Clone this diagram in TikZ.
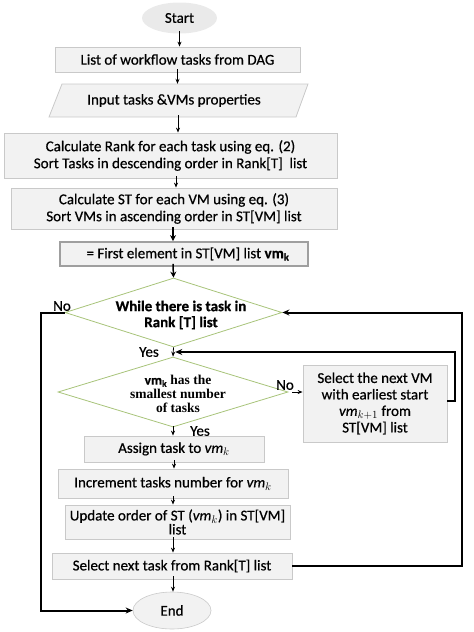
\documentclass[tikz,border=0pt]{standalone}
\usepackage{fontspec}
\setmainfont{Carlito}[FakeBold=0.6]
\newfontfamily\serifbold{Liberation Serif}
\usetikzlibrary{shapes.geometric,arrows.meta,calc}
\definecolor{boxfill}{HTML}{F2F2F2}
\definecolor{boxline}{HTML}{C9C9C9}
\definecolor{diagreen}{HTML}{A8C47A}
\tikzset{
  box/.style={rectangle,draw=boxline,fill=boxfill,line width=0.8pt,inner sep=2pt,align=center,font=\fontsize{15}{17}\selectfont},
  oval/.style={ellipse,draw=boxline,fill=boxfill,line width=0.6pt,inner sep=0pt,font=\fontsize{15}{17}\selectfont},
  dia/.style={diamond,draw=diagreen,fill=white,line width=0.8pt,inner sep=0pt},
  lbl/.style={font=\fontsize{15}{17}\selectfont,inner sep=0pt},
  thinarr/.style={-{Stealth[length=5pt,width=4pt]},line width=0.8pt},
  midarr/.style={-{Stealth[length=6pt,width=6pt]},line width=1.5pt},
  looparr/.style={-{Stealth[length=7pt,width=6pt]},line width=2pt},
}
\begin{document}
\begin{tikzpicture}[x=1pt,y=-1pt]
\useasboundingbox (0,0) rectangle (474,632);
% nodes
\node[oval,draw=none,fill=boxfill!85!gray!70,minimum width=75pt,minimum height=31pt] (start) at (179.5,18) {Start};
\node[box,minimum width=245pt,minimum height=25pt] (list) at (177.5,59.5) {List of workflow tasks from DAG};
\fill[boxfill] (49,117) -- (296,117) -- (308,84) -- (62,84) -- cycle;
\draw[boxline,line width=0.8pt] (49,117) -- (296,117) -- (308,84) -- (62,84) -- cycle;
\node[lbl,minimum width=247pt,minimum height=33pt] (input) at (174,100.5) {Input tasks \&VMs properties};
\node[box,minimum width=333pt,minimum height=45pt] (rank) at (170.5,155.5) {Calculate Rank for each task using eq. (2)\\Sort Tasks in descending order in Rank[T]\ \ list};
\node[box,minimum width=326pt,minimum height=41pt] (st) at (174,208.5) {Calculate ST for each VM using eq. (3)\\Sort VMs in ascending order in ST[VM] list};
\node[box,draw=gray!75,line width=1.8pt,minimum width=248pt,minimum height=24pt] (first) at (184,254) {\hspace*{8pt}= First element in ST[VM] list $\mathbf{vm}_{\mathbf{k}}$};
\node[dia,minimum width=217pt,minimum height=69pt] (d1) at (173.5,312.5) {};
\node[lbl,font=\fontsize{15}{16}\selectfont\bfseries,align=center] (d1t) at (181,315) {While there is task in\\Rank [T] list};
\node[dia,minimum width=230pt,minimum height=70pt] (d2) at (173,392) {};
\node[lbl,font=\fontsize{13.5}{14}\serifbold\bfseries,align=center] (d2t) at (178,394) {$\mathbf{vm}_{\mathbf{k}}$ has the\\smallest number\\of tasks};
\node[box,minimum width=144pt,minimum height=77pt,font=\fontsize{15}{16.5}\selectfont] (sel) at (375,403.5) {Select the next VM\\with earliest start\\$\mathit{vm}_{k+1}$ from\\ST[VM] list};
\node[box,minimum width=180pt,minimum height=26pt] (assign) at (174,449) {Assign task to $\mathit{vm}_k$};
\node[box,minimum width=230pt,minimum height=29pt] (incr) at (173,483.5) {Increment tasks number for $\mathit{vm}_k$};
\node[box,minimum width=225pt,minimum height=34pt,font=\fontsize{15}{14}\selectfont] (upd) at (177.5,522) {Update order of ST ($\mathit{vm}_k$) in ST[VM]\\list};
\node[box,minimum width=240pt,minimum height=26pt] (next) at (172,566) {Select next task from Rank[T] list};
\node[oval,minimum width=78pt,minimum height=37pt] (end) at (172,610.5) {End};
% labels
\node[lbl] (no1) at (62,306) {No};
\node[lbl] (yes1) at (149,352) {Yes};
\node[lbl] (no2) at (285,385) {No};
\node[lbl] (yes2) at (200,431) {Yes};
% vertical arrows
\draw[thinarr] ([yshift=3pt]start.south) -- (start.south |- list.north);
\draw[thinarr] ([yshift=3pt]list.south) -- (list.south |- input.north);
\draw[thinarr] ([xshift=4pt,yshift=2pt]input.south) -- ([xshift=4pt]input.south |- rank.north);
\draw[thinarr] ([xshift=5.5pt,yshift=2pt]rank.south) -- ([xshift=5.5pt]rank.south |- st.north);
\draw[midarr] ([xshift=-1pt,yshift=2pt]st.south) -- ([xshift=-1pt]st.south |- first.north);
\draw[midarr] ([xshift=-11pt,yshift=3pt]first.south) -- (d1.north);
\draw[thinarr] (d1.south) -- (d2.north);
\draw[thinarr] ([yshift=1pt]d2.south) -- (d2.south |- assign.north);
\draw[thinarr] ([yshift=2pt]assign.south) -- (assign.south |- incr.north);
\draw[thinarr] ([yshift=2pt]incr.south) -- (incr.south |- upd.north);
\draw[thinarr] ([xshift=-4.5pt,yshift=2pt]upd.south) -- ([xshift=-4.5pt]upd.south |- next.north);
\draw[thinarr] ([xshift=1pt,yshift=3pt]next.south) -- ([xshift=1pt]next.south |- end.north);
\draw[thinarr,line width=1pt] ([xshift=4pt]d2.east) -- (sel.west |- d2.east);
% loops
\coordinate (m) at ($(d1.south)!0.5!(d2.north)$);
\draw[looparr] ([yshift=2.5pt]sel.east) -- ++(8,0) |- ([xshift=2pt]m);
\draw[looparr] (next.east) -| (462,0 |- d1.east) -- (d1.east);
\draw[looparr] (d1.west) -- (41,0 |- d1.west) |- (end.west);
\end{tikzpicture}
\end{document}
